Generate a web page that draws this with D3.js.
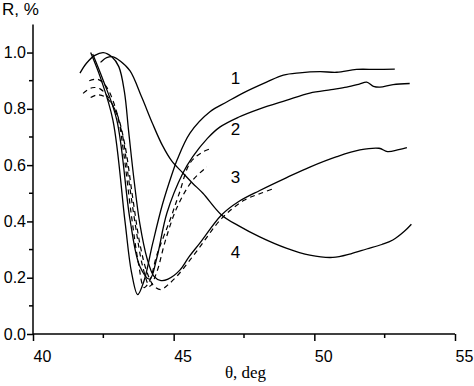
<!DOCTYPE html>
<html><head><meta charset="utf-8">
<script src="https://cdn.jsdelivr.net/npm/d3@7"></script>
<style>body{margin:0;background:#fff}svg{display:block}</style>
</head><body>
<svg id="c" width="474" height="386"></svg>
<script>
// ---- data ----
const xTicks = [40, 45, 50, 55];
const xMinor = [42.5, 47.5, 52.5];
const yTicks = [0.0, 0.2, 0.4, 0.6, 0.8, 1.0];
const yMinor = [0.1, 0.3, 0.5, 0.7, 0.9];
const curveLabels = ["1", "2", "3", "4"];
const labelPos = [[47.2, 0.89], [47.2, 0.706], [47.2, 0.535], [47.2, 0.27]];

const curve1 = [[42.05,1.0],[42.4,0.91],[42.84,0.76],[43.27,0.40],[43.5,0.22],[43.72,0.14],[43.95,0.19],[44.25,0.32],[44.6,0.46],[44.93,0.565],[45.12,0.618],[45.58,0.714],[46.29,0.79],[46.9,0.825],[47.46,0.856],[48.3,0.895],[48.9,0.92],[49.48,0.928],[50.2,0.932],[50.8,0.93],[51.5,0.94],[52.2,0.94],[52.86,0.941]];
const curve2 = [[42.12,0.995],[42.5,0.9],[42.98,0.76],[43.45,0.405],[43.8,0.24],[44.15,0.195],[44.4,0.27],[44.76,0.43],[45.33,0.572],[45.68,0.63],[46.2,0.695],[46.64,0.735],[47.3,0.77],[48.06,0.80],[49.0,0.83],[49.84,0.856],[50.6,0.868],[51.15,0.877],[51.6,0.888],[51.86,0.895],[52.1,0.88],[52.33,0.877],[52.8,0.886],[53.39,0.89]];
const curve3 = [[41.67,0.927],[41.9,0.962],[42.2,0.99],[42.5,1.0],[42.8,0.985],[43.05,0.95],[43.25,0.86],[43.4,0.72],[43.6,0.54],[43.8,0.39],[44.05,0.27],[44.3,0.205],[44.55,0.19],[44.8,0.195],[45.22,0.227],[45.55,0.275],[45.93,0.323],[46.7,0.423],[47.3,0.47],[48.06,0.51],[49.0,0.555],[49.84,0.593],[50.8,0.63],[51.62,0.654],[52.3,0.66],[52.6,0.648],[53.0,0.655],[53.29,0.662]];
const curve4 = [[42.4,0.965],[42.62,0.982],[42.85,0.985],[43.1,0.97],[43.45,0.935],[43.87,0.84],[44.26,0.745],[44.6,0.67],[44.93,0.615],[45.33,0.572],[45.68,0.535],[46.04,0.50],[46.7,0.423],[47.3,0.385],[48.06,0.345],[49.0,0.305],[49.84,0.28],[50.66,0.272],[51.3,0.285],[51.86,0.302],[52.4,0.318],[52.79,0.334],[53.2,0.365],[53.45,0.39]];
const dashA = [[42.0,0.9],[42.3,0.905],[42.6,0.88],[43.0,0.78],[43.2,0.66],[43.5,0.42],[43.75,0.25],[43.95,0.165],[44.15,0.19],[44.4,0.28],[44.87,0.405],[45.2,0.5],[45.58,0.607],[46.0,0.645],[46.36,0.66]];
const dashB = [[41.78,0.855],[42.1,0.875],[42.4,0.87],[42.8,0.82],[43.15,0.72],[43.4,0.55],[43.65,0.38],[43.9,0.24],[44.15,0.17],[44.4,0.22],[44.7,0.33],[45.12,0.45],[45.68,0.547],[46.18,0.593]];
const dashC = [[42.05,0.84],[42.3,0.85],[42.6,0.84],[42.95,0.79],[43.25,0.68],[43.55,0.48],[43.8,0.32],[44.05,0.22],[44.3,0.17],[44.55,0.158],[44.8,0.175],[45.2,0.215],[45.9,0.305],[46.7,0.41],[47.5,0.475],[48.1,0.5],[48.6,0.518]];
const solidCurves = [curve1, curve2, curve3, curve4];
const dashedCurves = [dashA, dashB, dashC];

// ---- chart ----
const svg = d3.select("#c");
const x = d3.scaleLinear().domain([40, 55]).range([33, 455]);
const y = d3.scaleLinear().domain([0, 1.1]).range([334, 24.4]);
const font = "'Liberation Sans', Arial, sans-serif";

const line = d3.line().x(d => x(d[0])).y(d => y(d[1])).curve(d3.curveCatmullRom.alpha(0.5));

// x axis
const gx = svg.append("g").attr("transform", "translate(0,334)")
  .call(d3.axisBottom(x).tickValues(xTicks).tickSize(7).tickFormat(d3.format("d")).tickSizeOuter(0));
gx.select(".domain").attr("stroke-width", 1.5).attr("d", `M${x(40)},0H${x(55)}`);
gx.selectAll(".tick line").attr("stroke-width", 1.5);
gx.selectAll(".tick text").attr("text-anchor", "start").attr("dy", null).attr("y", 28)
  .attr("font-family", font).attr("font-size", 16).attr("fill", "#000");
gx.selectAll(".minor").data(xMinor).enter().append("line").attr("class", "minor")
  .attr("x1", d => x(d)).attr("x2", d => x(d)).attr("y1", 0).attr("y2", 4)
  .attr("stroke", "#000").attr("stroke-width", 1.5);

// y axis
const gy = svg.append("g").attr("transform", "translate(33,0)")
  .call(d3.axisLeft(y).tickValues(yTicks).tickSize(6).tickFormat(d3.format(".1f")).tickSizeOuter(0));
gy.select(".domain").attr("stroke-width", 1.5).attr("d", `M0,${y(1.1)}V${y(0)}`);
gy.selectAll(".tick line").attr("stroke-width", 1.5);
gy.selectAll(".tick text").attr("x", -7).attr("font-family", font).attr("font-size", 16).attr("fill", "#000");
gy.selectAll(".minor").data(yMinor).enter().append("line").attr("class", "minor")
  .attr("x1", -4).attr("x2", 0).attr("y1", d => y(d)).attr("y2", d => y(d))
  .attr("stroke", "#000").attr("stroke-width", 1.5);

// axis titles
svg.append("text").attr("x", 2).attr("y", 15).attr("font-family", font).attr("font-size", 17).text("R, %");
svg.append("text").attr("x", 245.5).attr("y", 378).attr("text-anchor", "middle")
  .attr("font-family", "'Liberation Serif', 'Times New Roman', serif").attr("font-size", 17).text("θ, deg");

// curves
svg.append("g").selectAll("path.s").data(solidCurves).enter().append("path")
  .attr("d", line).attr("fill", "none").attr("stroke", "#000").attr("stroke-width", 1.3);
svg.append("g").selectAll("path.d").data(dashedCurves).enter().append("path")
  .attr("d", line).attr("fill", "none").attr("stroke", "#000").attr("stroke-width", 1.2)
  .attr("stroke-dasharray", "5,4");

// curve labels
svg.append("g").selectAll("text").data(curveLabels).enter().append("text")
  .attr("x", (d, i) => x(labelPos[i][0])).attr("y", (d, i) => y(labelPos[i][1]))
  .attr("text-anchor", "middle").attr("font-family", font).attr("font-size", 17).text(d => d);
</script>
</body></html>
